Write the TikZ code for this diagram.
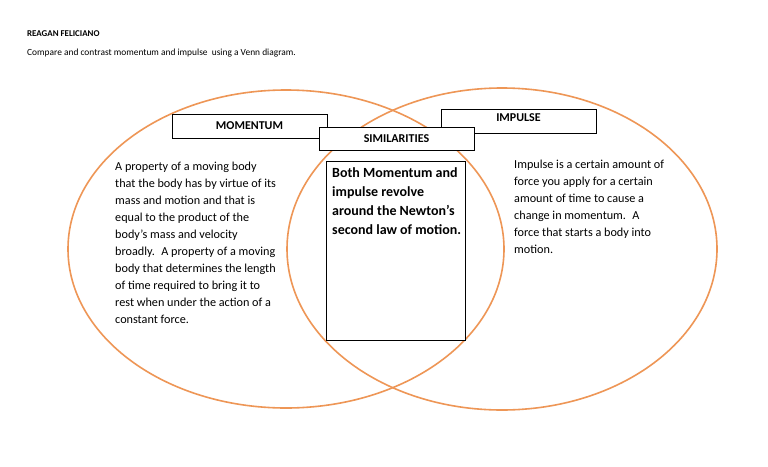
\documentclass[tikz,border=0pt]{standalone}
\usepackage{fontspec}
\setmainfont{Carlito}
\usetikzlibrary{positioning}
\definecolor{venn}{RGB}{238,150,86}

\begin{document}
\begin{tikzpicture}[
    x=1pt, y=-1pt,
    circ/.style={draw=venn, line width=1.6pt},
    label/.style={rectangle, draw=black, fill=white, line width=0.8pt, minimum width=155pt, minimum height=24pt, font=\fontsize{12}{14}\selectfont\bfseries},
    desc/.style={anchor=north west, inner sep=0pt, align=left, font=\fontsize{12.2}{17}\selectfont}]

    \useasboundingbox[fill=white] (0,0) rectangle (768,466);

    \node[anchor=base west, inner sep=0pt, font=\fontsize{8.9}{10}\selectfont\bfseries] (name) at (27,36) {REAGAN FELICIANO};
    \node[anchor=base west, inner sep=0pt, font=\fontsize{9.4}{11}\selectfont] (task) at (27,55) {Compare and contrast momentum and impulse \ using a Venn diagram.};

    \draw[circ] (286,249) ellipse [x radius=218, y radius=159];
    \draw[circ] (502,249) ellipse [x radius=215, y radius=161];

    \node[label] (momentum) at (249.5,126) {MOMENTUM};
    \node[label, text depth=6pt] (impulse) at (518.5,121) {IMPULSE};
    \node[label, minimum height=23pt] (similar) at (396.5,138.5) {SIMILARITIES};

    \node[rectangle, draw=black, fill=white, line width=0.8pt, minimum width=139pt, minimum height=179pt] (box) at (395.5,250.5) {};

    \node[desc] (momdesc) at (115,162) {A property of a moving body\\
        that the body has by virtue of its\\
        mass and motion and that is\\
        equal to the product of the\\
        body's mass and velocity\\
        broadly. \ A property of a moving\\
        body that determines the length\\
        of time required to bring it to\\
        rest when under the action of a\\
        constant force.};

    \node[desc] (impdesc) at (514,160) {Impulse is a certain amount of\\
        force you apply for a certain\\
        amount of time to cause a\\
        change in momentum. \ A\\
        force that starts a body into\\
        motion.};

    \node[desc, font=\fontsize{14}{19.2}\selectfont\bfseries] (simdesc) at (332,167) {Both Momentum and\\
        impulse revolve\\
        around the Newton’s\\
        second law of motion.};
\end{tikzpicture}
\end{document}
